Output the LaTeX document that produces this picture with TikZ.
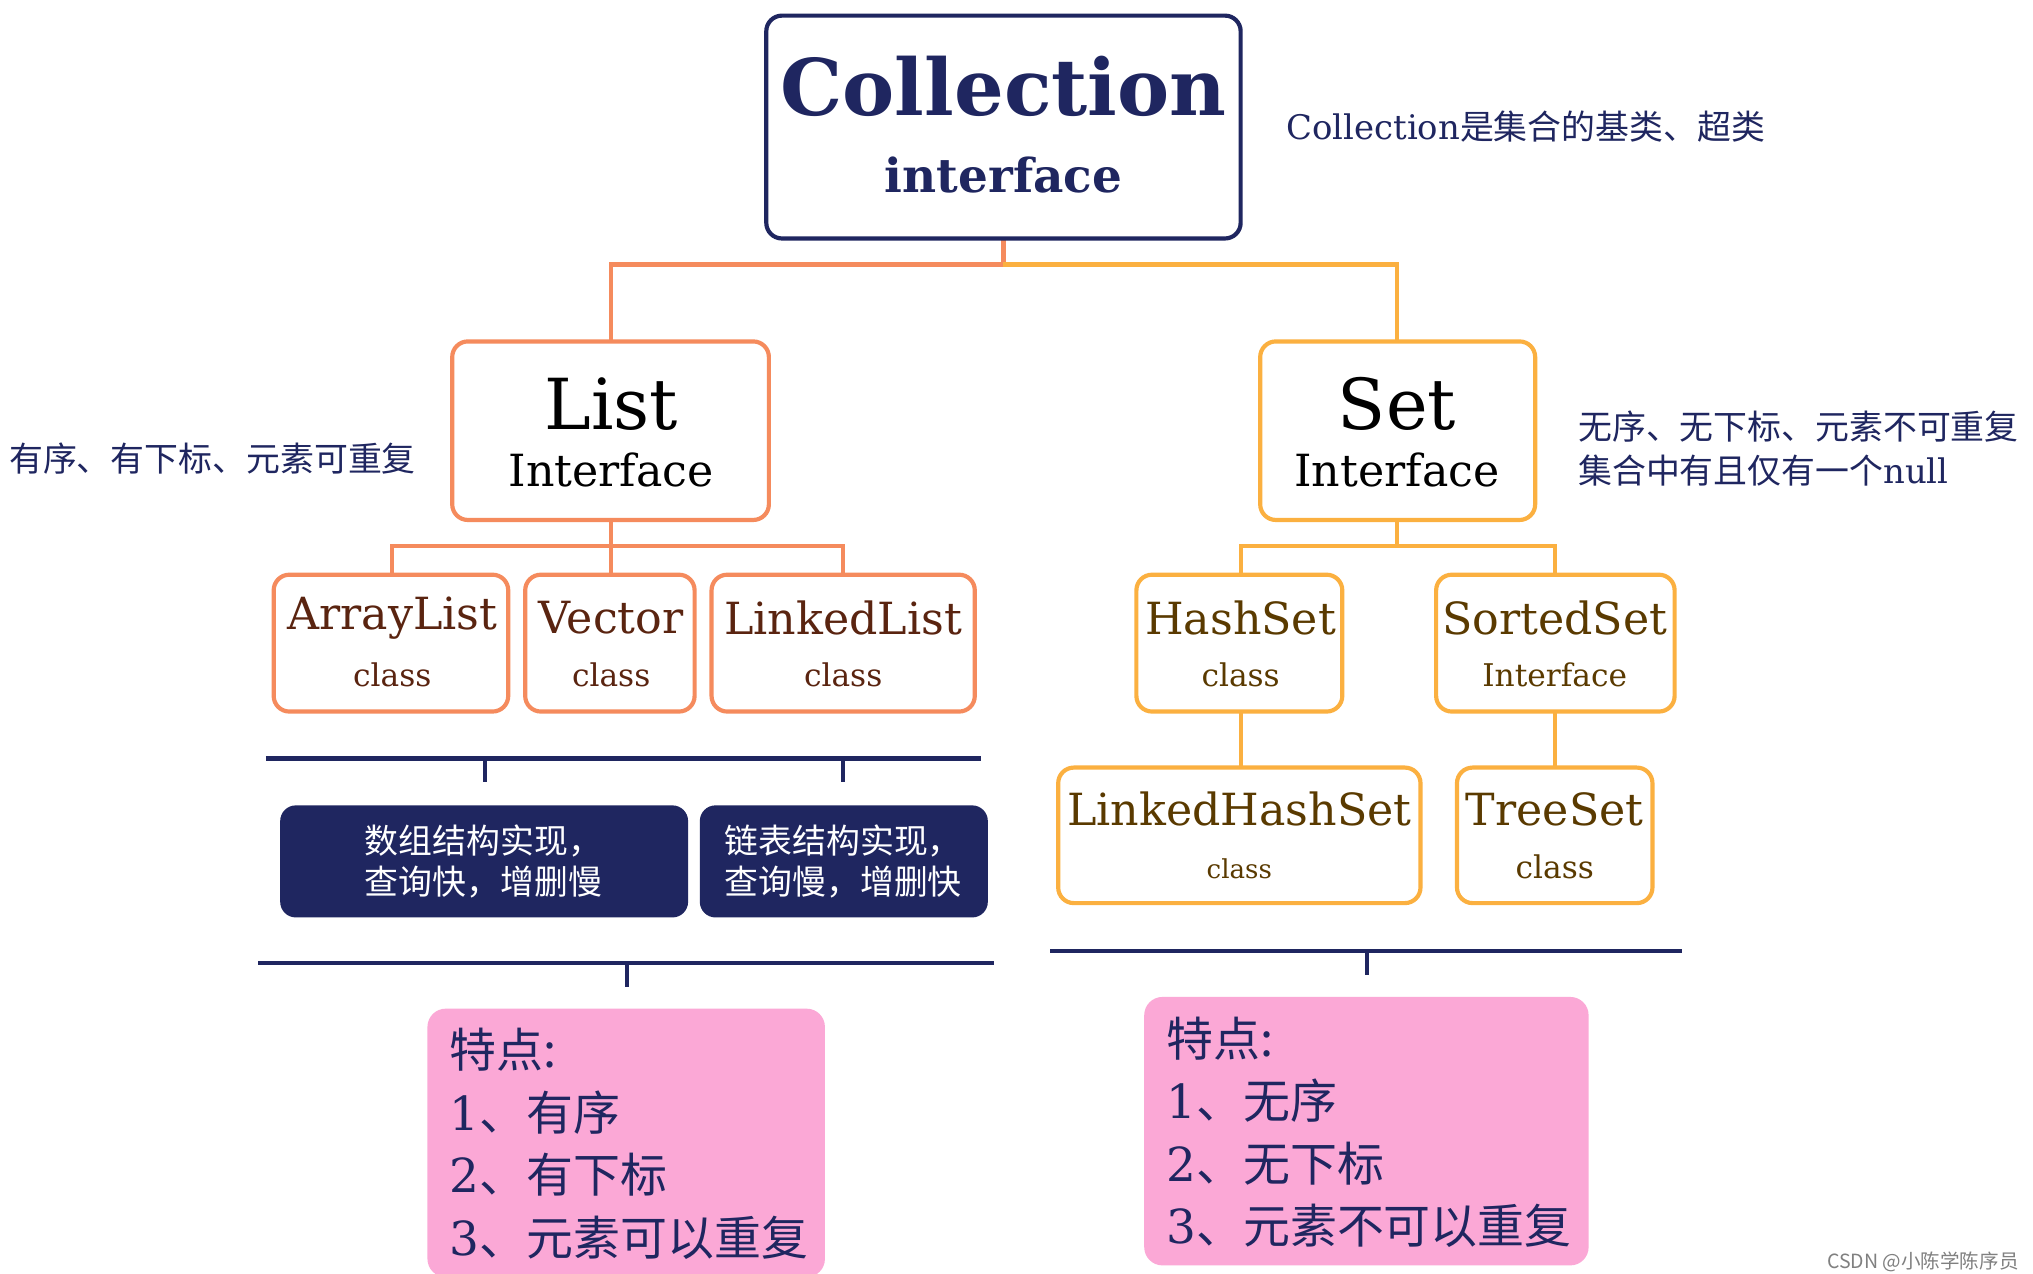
\documentclass[tikz,border=0pt]{standalone}
\usepackage{fontspec}
\setmainfont{DejaVu Serif}
\newfontfamily\cjk{Noto Sans CJK SC}
\definecolor{navy}{HTML}{1F2660}
\definecolor{lor}{HTML}{F58B5D}
\definecolor{amb}{HTML}{FBB040}
\definecolor{pinkb}{HTML}{FBA8D6}
\definecolor{brn}{HTML}{5A2410}
\definecolor{gold}{HTML}{5A3A00}
\begin{document}
\begin{tikzpicture}[x=0.5pt,y=-0.5pt,
 box/.style={draw,rounded corners=6pt,line width=1.6pt,fill=white},
 lorline/.style={draw=lor,line width=1.6pt},
 ambline/.style={draw=amb,line width=1.6pt},
 navline/.style={draw=navy,line width=1.6pt},
 darkbox/.style={fill=navy,rounded corners=6pt,text=white,align=center,font=\cjk\fontsize{13}{16}\selectfont},
 pinkbox/.style={fill=pinkb,rounded corners=7pt,text=navy,align=left,anchor=north west,font=\cjk\fontsize{18}{24}\selectfont},
 note/.style={text=navy,anchor=west,align=left,font=\cjk\fontsize{13}{17}\selectfont}]
\useasboundingbox[fill=white] (0,0) rectangle (1560,977);
% connectors
\coordinate (cb) at (770,183); \coordinate (cm) at (770,203);
\draw[lorline] (cb)--(cm)--(469,203)--(469,262);
\draw[ambline] (cm)--(1072,203)--(1072,262);
\draw[lorline] (469,399)--(469,419)--(301,419)--(301,441);
\draw[lorline] (469,419)--(647,419)--(647,441);
\draw[lorline] (469,419)--(469,441);
\draw[ambline] (1072,399)--(1072,419)--(952,419)--(952,441);
\draw[ambline] (1072,419)--(1193,419)--(1193,441);
\draw[ambline] (952,546)--(952,589);
\draw[ambline] (1193,546)--(1193,589);
% boxes
\draw[box,draw=navy] (588,12) rectangle (952,183);
\node[text=navy,font=\bfseries\fontsize{30}{30}\selectfont] (col) at (770,66) {Collection};
\node[text=navy,font=\bfseries\fontsize{18}{18}\selectfont] (coli) at (770,134) {interface};
\draw[box,draw=lor] (347,262) rectangle (590,399);
\node[font=\fontsize{27}{27}\selectfont] (list) at (469,310) {List};
\node[font=\fontsize{17}{17}\selectfont] at (469,361) {Interface};
\draw[box,draw=amb] (967,262) rectangle (1178,399);
\node[font=\fontsize{27}{27}\selectfont] (set) at (1072,310) {Set};
\node[font=\fontsize{17}{17}\selectfont] at (1072,361) {Interface};
\foreach \a/\b/\c/\cl/\nm/\sub/\tc in {210/390/301/lor/ArrayList/class/brn,403/533/469/lor/Vector/class/brn,546/748/647/lor/LinkedList/class/brn,872/1030/952/amb/HashSet/class/gold,1102/1285/1193/amb/SortedSet/Interface/gold}{
 \draw[box,draw=\cl] (\a,441) rectangle (\b,546);
 \node[text=\tc,font=\fontsize{17}{17}\selectfont] at (\c,474) {\nm};
 \node[text=\tc,font=\fontsize{12}{12}\selectfont] at (\c,518) {\sub};
}
\draw[box,draw=amb] (812,589) rectangle (1090,693);
\node[text=gold,font=\fontsize{17}{17}\selectfont] at (951,621) {LinkedHashSet};
\node[text=gold,font=\fontsize{10}{10}\selectfont] at (951,667) {class};
\draw[box,draw=amb] (1118,589) rectangle (1268,693);
\node[text=gold,font=\fontsize{17}{17}\selectfont] at (1193,621) {TreeSet};
\node[text=gold,font=\fontsize{12}{12}\selectfont] at (1193,665) {class};
% navy lines
\draw[navline] (204,582)--(753,582); \draw[navline] (372,582)--(372,600); \draw[navline] (647,582)--(647,600);
\draw[navline] (198,739)--(763,739); \draw[navline] (481,739)--(481,757);
\draw[navline] (806,730)--(1291,730); \draw[navline] (1049,730)--(1049,748);
\fill[navy,rounded corners=6pt] (215,618) rectangle (528,704);
\node[darkbox] at (371,661) {数组结构实现，\\查询快，增删慢};
\fill[navy,rounded corners=6pt] (537,618) rectangle (758,704);
\node[darkbox] at (647,661) {链表结构实现，\\查询慢，增删快};
\fill[pinkb,rounded corners=7pt] (328,774) rectangle (633,980);
\node[pinkbox] at (338,782) {特点:\\{\rmfamily 1}、有序\\{\rmfamily 2}、有下标\\{\rmfamily 3}、元素可以重复};
\fill[pinkb,rounded corners=7pt] (878,765) rectangle (1219,971);
\node[pinkbox] at (888,773) {特点:\\{\rmfamily 1}、无序\\{\rmfamily 2}、无下标\\{\rmfamily 3}、元素不可以重复};
% notes
\node[note] at (980,97) {{\rmfamily Collection}是集合的基类、超类};
\node[note] at (0,352) {有序、有下标、元素可重复};
\node[note] at (1204,344) {无序、无下标、元素不可重复\\集合中有且仅有一个{\rmfamily null}};
\node[text=gray,anchor=east,font=\cjk\fontsize{7.5}{8}\selectfont] at (1556,968) {CSDN @小陈学陈序员};
\end{tikzpicture}
\end{document}
